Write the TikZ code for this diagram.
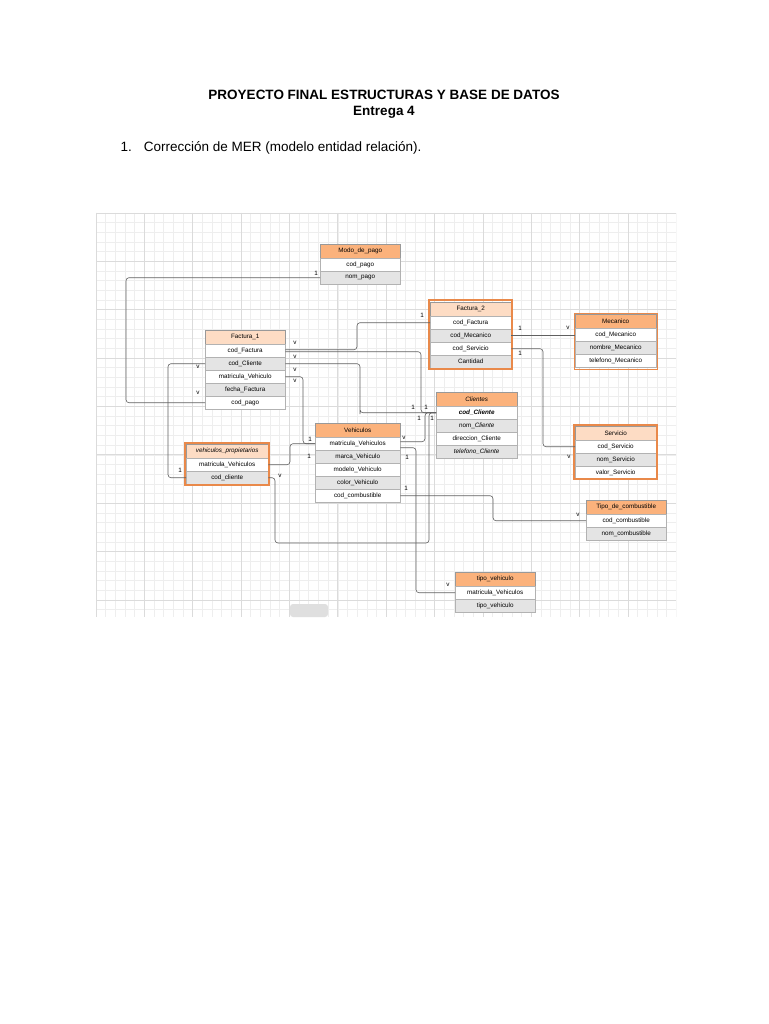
\documentclass[tikz,border=0pt]{standalone}
\usepackage{fontspec}
\setmainfont{Liberation Sans}
\definecolor{hdro}{HTML}{FBB27C}
\definecolor{hdrl}{HTML}{FDDCC4}
\definecolor{rowg}{HTML}{E4E4E4}
\definecolor{bord}{HTML}{E9894A}
\tikzset{
 hdr/.style={draw=gray!80, minimum height=14pt, inner sep=0pt, font=\fontsize{6.3}{7}\selectfont, anchor=north west},
 rowbox/.style={draw=gray!60, minimum height=13pt, inner sep=0pt, font=\fontsize{6.3}{7}\selectfont, anchor=north west},
 conn/.style={draw=gray!75!black, line width=0.6pt, rounded corners=3pt},
 lbl/.style={font=\fontsize{6.3}{7}\selectfont, inner sep=0pt},
 thick orange/.style={draw=bord, line width=1.6pt}
}
\newcommand\enttab[7]{% name, x, y, width, header fill, header text, rows
 \node[hdr, fill=#5, minimum width=#4pt] (#1) at (#2,#3) {#6};
 \foreach \r [count=\i] in {#7} {
  \pgfmathsetmacro\yy{#3+14+(\i-1)*13}
  \ifodd\i\def\fc{white}\else\def\fc{rowg}\fi
  \node[rowbox, fill=\fc, minimum width=#4pt] (#1-\i) at (#2,\yy) {\r};
 }
}
\begin{document}
\begin{tikzpicture}[x=1pt,y=-1pt]
\useasboundingbox (0,0) rectangle (768,1024);
\fill[white] (0,0) rectangle (768,1024);
% titles
\node[font=\fontsize{13.5}{15}\selectfont\bfseries] (t1) at (384,95) {PROYECTO FINAL ESTRUCTURAS Y BASE DE DATOS};
\node[font=\fontsize{13.5}{15}\selectfont\bfseries] (t2) at (384,112) {Entrega 4};
\node[font=\fontsize{13.5}{15}\selectfont, anchor=west] (t3) at (117,148) {1.\hspace{12pt}Corrección de MER (modelo entidad relación).};
% grid
\begin{scope}
\clip (96,213) rectangle (676,617);
\foreach \gx in {0,...,60} \draw[gray!13, line width=0.5pt] (96+\gx*9.67,213) -- (96+\gx*9.67,617);
\foreach \gy in {0,...,42} \draw[gray!13, line width=0.5pt] (96,213+\gy*9.67) -- (676,213+\gy*9.67);
\foreach \gx in {0,5,...,60} \draw[gray!28, line width=0.6pt] (96+\gx*9.67,213) -- (96+\gx*9.67,617);
\foreach \gy in {0,5,...,40} \draw[gray!28, line width=0.6pt] (96,213+\gy*9.67) -- (676,213+\gy*9.67);
\end{scope}
\fill[gray!25, rounded corners=3pt] (290,604) rectangle (328,617);
% tables
\enttab{mp}{320}{244}{80}{hdro}{Modo\_de\_pago}{cod\_pago,nom\_pago}
\enttab{f1}{205}{330}{80}{hdrl}{Factura\_1}{cod\_Factura,cod\_Cliente,matricula\_Vehiculo,fecha\_Factura,cod\_pago}
\enttab{f2}{430}{302}{81}{hdrl}{Factura\_2}{cod\_Factura,cod\_Mecanico,cod\_Servicio,Cantidad}
\draw[thick orange] (429,300) rectangle (512,369);
\enttab{me}{575}{314}{81}{hdro}{Mecanico}{cod\_Mecanico,nombre\_Mecanico,telefono\_Mecanico}
\draw[bord, line width=1pt] (574,313) rectangle (657,369);
\enttab{cl}{436}{392}{81}{hdro}{\textit{Clientes}}{{\textit{\textbf{cod\_Cliente}}},{nom\_\textit{Cliente}},{direccion\_Cliente},{\textit{telefono\_Cliente}}}
\enttab{se}{575}{426}{81}{hdrl}{Servicio}{cod\_Servicio,nom\_Servicio,valor\_Servicio}
\draw[thick orange] (574,425) rectangle (657,479);
\enttab{ve}{315}{423}{85}{hdro}{Vehiculos}{matricula\_Vehiculos,marca\_Vehiculo,modelo\_Vehiculo,color\_Vehiculo,cod\_combustible}
\enttab{vp}{186}{444}{82}{hdrl}{\textit{vehiculos\_propietarios}}{matricula\_Vehiculos,cod\_cliente}
\draw[thick orange] (185,443) rectangle (269,485);
\enttab{tc}{586}{500}{80}{hdro}{Tipo\_de\_combustible}{cod\_combustible,nom\_combustible}
\enttab{tv}{455}{572}{80}{hdro}{tipo\_vehiculo}{matricula\_Vehiculos,tipo\_vehiculo}
% connectors
\draw[conn] (mp-2.west) -| (126,380) |- (f1-5.west);
\draw[conn] ([yshift=1]f1-1.east) -| (357,330) |- (f2-1.west);
\draw[conn] ([yshift=-1]f1-1.east) -| ([xshift=-15]cl-1.west) -- (cl-1.west);
\draw[conn] (f1-2.east) -| (360,411) |- (cl-1.west);
\draw[conn] (f1-3.east) -| ([xshift=-12]ve-1.west) -- (ve-1.west);
\draw[conn] (f1-2.west) -| (168,470) |- (vp-2.west);
\draw[conn] (vp-1.east) -| ([xshift=-25]ve-1.west) -- (ve-1.west);
\draw[conn] ([yshift=2]ve-1.east) -| ([xshift=-11]cl-1.west) -- (cl-1.west);
\draw[conn] (vp-2.east) -| (275,543) -| ([xshift=-7]cl-1.west) -- (cl-1.west);
\draw[conn] ([yshift=-4]ve-1.east) -| (416,585) |- (tv-1.west);
\draw[conn] (ve-5.east) -| (493,515) |- (tc-1.west);
\draw[conn] (f2-2.east) -- (f2-2.east -| me-1.west);
\draw[conn] (f2-3.east) -| (543,440) |- (se-1.west);
% cardinality labels
\foreach \t/\x/\y [count=\k] in {1/316/273, v/198/393, v/295/343, v/295/357, v/295/370, v/295/381, v/198/367,
  1/422/315, 1/413/407, 1/426/407, 1/419/418, 1/432/418, 1/310/439, 1/309/456, 1/180/470, v/280/476,
  v/404/438, 1/407/457, 1/406/488, v/448/585, v/578/515, 1/520/328, v/568/328, 1/520/353, v/569/457}
  \node[lbl] (lab\k) at (\x,\y) {\t};
\end{tikzpicture}
\end{document}
